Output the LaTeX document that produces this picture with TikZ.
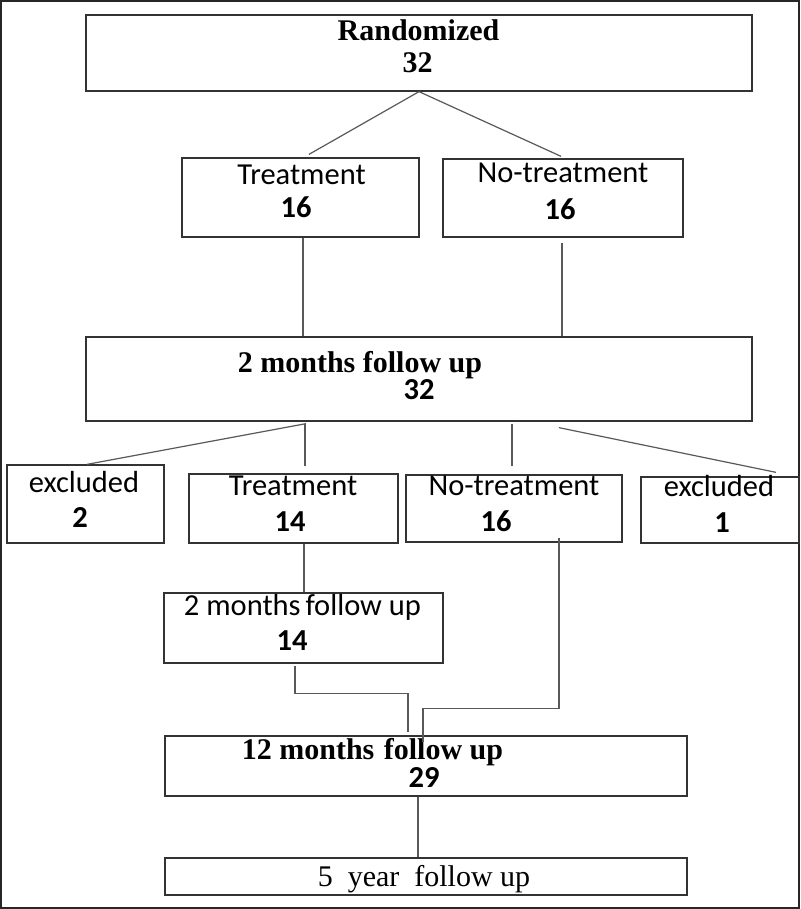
\documentclass[tikz,border=0pt]{standalone}
\usepackage{fontspec}
\newfontfamily\carlito{Carlito}
\newfontfamily\libser{Liberation Serif}
\usetikzlibrary{calc}
\begin{document}
\begin{tikzpicture}[x=1pt,y=-1pt,
  box/.style={draw=black!80, line width=1.3pt, rectangle, inner sep=0pt, fill=none},
  conn/.style={draw=black!65, line width=1.2pt},
  sertxt/.style={inner sep=0pt, anchor=base, font=\libser\bfseries\fontsize{30}{30}\selectfont},
  regtxt/.style={inner sep=0pt, anchor=base, font=\libser\fontsize{30}{30}\selectfont},
  santxt/.style={inner sep=0pt, anchor=base, font=\carlito\fontsize{30.5}{30.5}\selectfont},
  numtxt/.style={inner sep=0pt, anchor=base, font=\carlito\bfseries\fontsize{30.5}{30.5}\selectfont}
]
\useasboundingbox (0,0) rectangle (800,909);
\fill[white] (0,0) rectangle (800,909);
\draw[black!85, line width=1.5pt] (1,1) rectangle (799,908);

% boxes
\node[box, minimum width=666pt, minimum height=76pt] (rand) at (419,53) {};
\node[box, minimum width=237pt, minimum height=79pt] (t1) at (300.5,197.5) {};
\node[box, minimum width=240pt, minimum height=78pt] (n1) at (563,198) {};
\node[box, minimum width=666pt, minimum height=84pt] (fu2) at (419,379) {};
\node[box, minimum width=157pt, minimum height=78pt] (ex1) at (85.5,504) {};
\node[box, minimum width=209pt, minimum height=69pt] (t2) at (293.5,508.5) {};
\node[box, minimum width=216pt, minimum height=67pt] (n2) at (514,508.5) {};
\node[box, minimum width=158pt, minimum height=66pt] (ex2) at (720,510) {};
\node[box, minimum width=279pt, minimum height=70pt] (fu2b) at (303.5,628) {};
\node[box, minimum width=522pt, minimum height=60pt] (m12) at (426,766) {};
\node[box, minimum width=522pt, minimum height=37pt] (y5) at (426,876.5) {};

% texts
\node[sertxt] (randA) at (418.5,41) {Randomized};
\node[sertxt] (randB) at (417.5,73) {32};
\node[santxt] (t1A) at (301.5,185) {Treatment};
\node[numtxt] (t1B) at (296,218) {16};
\node[santxt] (n1A) at (563,183) {No-treatment};
\node[numtxt] (n1B) at (560,219) {16};
\node[sertxt] (fu2A) at (360,372) {2 months follow up};
\node[numtxt] (fu2B) at (419,399) {32};
\node[santxt] (ex1A) at (84,492) {excluded};
\node[numtxt] (ex1B) at (80,527) {2};
\node[santxt] (t2A) at (293,495) {Treatment};
\node[numtxt] (t2B) at (290,531) {14};
\node[santxt] (n2A) at (514,495) {No-treatment};
\node[numtxt] (n2B) at (496,531) {16};
\node[santxt] (ex2A) at (719,496) {excluded};
\node[numtxt] (ex2B) at (722,532) {1};
\node[santxt] (fu2bA) at (302.5,615) {2 months\hspace{-2pt} follow up};
\node[numtxt] (fu2bB) at (292,650) {14};
\node[sertxt] (m12A) at (372.5,759) {12 months\hspace{2pt} follow up};
\node[numtxt] (m12B) at (424,787) {29};
\node[regtxt] (y5A) at (424,886) {5\ \ year\ \ follow up};

% connectors
\draw[conn] (rand.south) -- ($(t1.north)+(8.5,-3)$);
\draw[conn] (rand.south) -- ($(n1.north)+(-2,-2)$);
\draw[conn] ($(t1.south)+(2.5,0)$) -- ($(fu2.north)+(-116,0)$);
\draw[conn] ($(n1.south)+(-1,5)$) -- ($(fu2.north)+(143,0)$);
\draw[conn] ($(fu2.south)+(-113,2)$) -- ($(ex1.north)+(1.5,0)$);
\draw[conn] ($(fu2.south)+(-114,2)$) -- ($(t2.north)+(11.5,-7)$);
\draw[conn] ($(fu2.south)+(93,2)$) -- ($(n2.north)+(-2,-8)$);
\draw[conn] ($(fu2.south)+(140,6)$) -- ($(ex2.north)+(56,-4)$);
\draw[conn] ($(t2.south)+(10.5,0)$) -- ($(fu2b.north)+(0.5,0)$);
\draw[conn] ($(fu2b.south)+(-8.5,2)$) |- ($(m12.north)+(-18,-42)$) -- ($(m12.north)+(-18,-3)$);
\draw[conn] ($(n2.south)+(45,-5)$) |- ($(m12.north)+(-3,-27)$) -- ($(m12.north)+(-3,7)$);
\draw[conn] ($(m12.south)+(-8,0)$) -- ($(y5.north)+(-8,0)$);
\end{tikzpicture}
\end{document}
